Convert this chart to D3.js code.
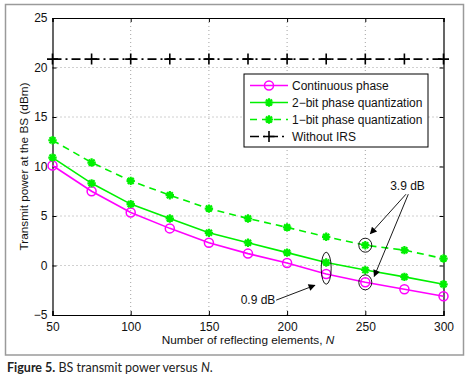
<!DOCTYPE html>
<html><head><meta charset="utf-8">
<script src="https://cdn.jsdelivr.net/npm/d3@7"></script>
<style>
body{margin:0;background:#fff;}
svg{display:block;}
</style></head>
<body>
<svg id="c" width="474" height="381"></svg>
<script>
const N = [50,75,100,125,150,175,200,225,250,275,300];
const continuous = [10.1,7.5,5.35,3.75,2.3,1.2,0.25,-0.85,-1.7,-2.4,-3.1];
const bit2 = [10.9,8.3,6.2,4.75,3.3,2.3,1.3,0.3,-0.45,-1.15,-1.9];
const bit1 = [12.65,10.4,8.55,7.1,5.75,4.75,3.85,2.9,2.05,1.55,0.7];
const noIRS = [20.85,20.85,20.85,20.85,20.85,20.85,20.85,20.85,20.85,20.85,20.85];
const xTicks = [50,100,150,200,250,300];
const yTicks = [-5,0,5,10,15,20,25];
const legendLabels = ["Continuous phase","2\u2212bit phase quantization","1\u2212bit phase quantization","Without IRS"];

const svg = d3.select("#c");
const m = {l:52.5, r:443.5, t:18, b:315};
const x = d3.scaleLinear().domain([50,300]).range([m.l,m.r]);
const y = d3.scaleLinear().domain([-5,25]).range([m.b,m.t]);
const font = "'Liberation Sans', Arial, sans-serif";

// outer frame
svg.append("rect").attr("x",5.5).attr("y",4.5).attr("width",458).attr("height",350.5)
  .attr("fill","none").attr("stroke","#9a9a9a").attr("stroke-width",1.5);

// grid
const g = svg.append("g");
g.selectAll(".gx").data(xTicks.slice(1,-1)).join("line")
  .attr("x1",d=>x(d)).attr("x2",d=>x(d)).attr("y1",m.t).attr("y2",m.b)
  .attr("stroke","#999").attr("stroke-width",0.9).attr("stroke-dasharray","1,3");
g.selectAll(".gy").data(yTicks.slice(1,-1)).join("line")
  .attr("y1",d=>y(d)).attr("y2",d=>y(d)).attr("x1",m.l).attr("x2",m.r)
  .attr("stroke","#999").attr("stroke-width",0.9).attr("stroke-dasharray","1,3");

// axes
const xa = svg.append("g").attr("transform",`translate(0,${m.b})`)
  .call(d3.axisBottom(x).tickValues(xTicks).tickSize(-4).tickPadding(7).tickFormat(d3.format("d")));
const xat = svg.append("g").attr("transform",`translate(0,${m.t})`)
  .call(d3.axisTop(x).tickValues(xTicks).tickSize(-4).tickFormat(""));
const ya = svg.append("g").attr("transform",`translate(${m.l},0)`)
  .call(d3.axisLeft(y).tickValues(yTicks).tickSize(-4).tickPadding(5).tickFormat(d=>d<0?"\u2212"+Math.abs(d):d));
const yar = svg.append("g").attr("transform",`translate(${m.r},0)`)
  .call(d3.axisRight(y).tickValues(yTicks).tickSize(-4).tickFormat(""));
[xa,xat,ya,yar].forEach(a=>{
  a.select(".domain").attr("stroke","#000").attr("stroke-width",1.2);
  a.selectAll(".tick line").attr("stroke","#000");
  a.selectAll("text").attr("font-family",font).attr("font-size",12).attr("fill","#111");
});
ya.selectAll(".tick text").attr("dy","0.32em");

// axis labels
svg.append("text").attr("x",(m.l+m.r)/2).attr("y",344).attr("text-anchor","middle")
  .attr("font-family",font).attr("font-size",11.8).attr("fill","#111")
  .html("Number of reflecting elements, <tspan font-style='italic'>N</tspan>");
svg.append("text").attr("transform",`translate(28,${(m.t+m.b)/2}) rotate(-90)`)
  .attr("text-anchor","middle").attr("font-family",font).attr("font-size",11.8).attr("fill","#111")
  .text("Transmit power at the BS (dBm)");

// caption
svg.append("text").attr("x",7).attr("y",372).attr("font-family","Lato, 'Open Sans', sans-serif")
  .attr("font-size",12.5).attr("fill","#222")
  .html("<tspan font-weight='bold'>Figure 5.</tspan> BS transmit power versus <tspan font-style='italic'>N</tspan>.");

// marker shapes
function star(sel,cx,cy,col){
  const s=4.2, d=3.0;
  const p=`M${cx-s},${cy}L${cx+s},${cy}M${cx},${cy-s}L${cx},${cy+s}M${cx-d},${cy-d}L${cx+d},${cy+d}M${cx-d},${cy+d}L${cx+d},${cy-d}`;
  sel.append("path").attr("d",p).attr("stroke",col).attr("stroke-width",2.2).attr("fill","none");
}
function circ(sel,cx,cy,col){
  sel.append("circle").attr("cx",cx).attr("cy",cy).attr("r",4.5).attr("fill","none").attr("stroke",col).attr("stroke-width",1.5);
}
function plus(sel,cx,cy,col){
  const s=5.5;
  sel.append("path").attr("d",`M${cx-s},${cy}L${cx+s},${cy}M${cx},${cy-s}L${cx},${cy+s}`).attr("stroke",col).attr("stroke-width",1.6);
}

const magenta="#ff00ff", green="#00f000", black="#000";
const series = [
  {vals:continuous,col:magenta,dash:null,mk:circ},
  {vals:bit2,col:green,dash:null,mk:star},
  {vals:bit1,col:green,dash:"7,5",mk:star},
  {vals:noIRS,col:black,dash:"9,4,2,4",mk:plus}
];
const line = d3.line().x((d,i)=>x(N[i])).y(d=>y(d));
const sg = svg.append("g");
series.forEach(s=>{
  sg.append("path").attr("d",line(s.vals)).attr("fill","none").attr("stroke",s.col)
    .attr("stroke-width",1.6).attr("stroke-dasharray",s.dash);
  s.vals.forEach((v,i)=>s.mk(sg,x(N[i]),y(v),s.col));
});

// legend
const lg = svg.append("g");
lg.append("rect").attr("x",244).attr("y",74).attr("width",184).attr("height",73)
  .attr("fill","#fff").attr("stroke","#000").attr("stroke-width",1);
series.forEach((s,i)=>{
  const yy = 85.5 + i*17;
  lg.append("line").attr("x1",250).attr("x2",288).attr("y1",yy).attr("y2",yy)
    .attr("stroke",s.col).attr("stroke-width",1.6).attr("stroke-dasharray",s.dash);
  s.mk(lg,269,yy,s.col);
  lg.append("text").attr("x",292).attr("y",yy).attr("dy","0.35em").attr("font-family",font)
    .attr("font-size",12).attr("fill","#111").text(legendLabels[i]);
});

// annotations
const defs = svg.append("defs");
defs.append("marker").attr("id","ah").attr("viewBox","0 0 10 10").attr("refX",9).attr("refY",5)
  .attr("markerWidth",9).attr("markerHeight",7).attr("orient","auto").attr("markerUnits","userSpaceOnUse")
  .append("path").attr("d","M0,0L10,5L0,10Z").attr("fill","#000");
const an = svg.append("g");
an.append("ellipse").attr("cx",x(250)).attr("cy",y(bit1[8])).attr("rx",6.5).attr("ry",7)
  .attr("fill","none").attr("stroke","#000").attr("stroke-width",0.9);
an.append("ellipse").attr("cx",x(250)).attr("cy",y(continuous[8])).attr("rx",6.5).attr("ry",7.5)
  .attr("fill","none").attr("stroke","#000").attr("stroke-width",0.9);
an.append("ellipse").attr("cx",x(225)).attr("cy",y((bit2[7]+continuous[7])/2)).attr("rx",5).attr("ry",16)
  .attr("fill","none").attr("stroke","#000").attr("stroke-width",0.9);
const arrows = [[276,7.2,253.2,3.2],[277.5,7.2,255.7,-1.1],[193,-3.5,217.8,-2.0]];
arrows.forEach(a=>{
  an.append("line").attr("x1",x(a[0])).attr("y1",y(a[1])).attr("x2",x(a[2])).attr("y2",y(a[3]))
    .attr("stroke","#000").attr("stroke-width",0.9).attr("marker-end","url(#ah)");
});
an.append("text").attr("x",x(277)).attr("y",y(7.6)).attr("text-anchor","middle")
  .attr("font-family",font).attr("font-size",12).attr("fill","#111").text("3.9 dB");
an.append("text").attr("x",x(192.5)).attr("y",y(-3.9)).attr("text-anchor","end")
  .attr("font-family",font).attr("font-size",12).attr("fill","#111").text("0.9 dB");
</script>
</body></html>
